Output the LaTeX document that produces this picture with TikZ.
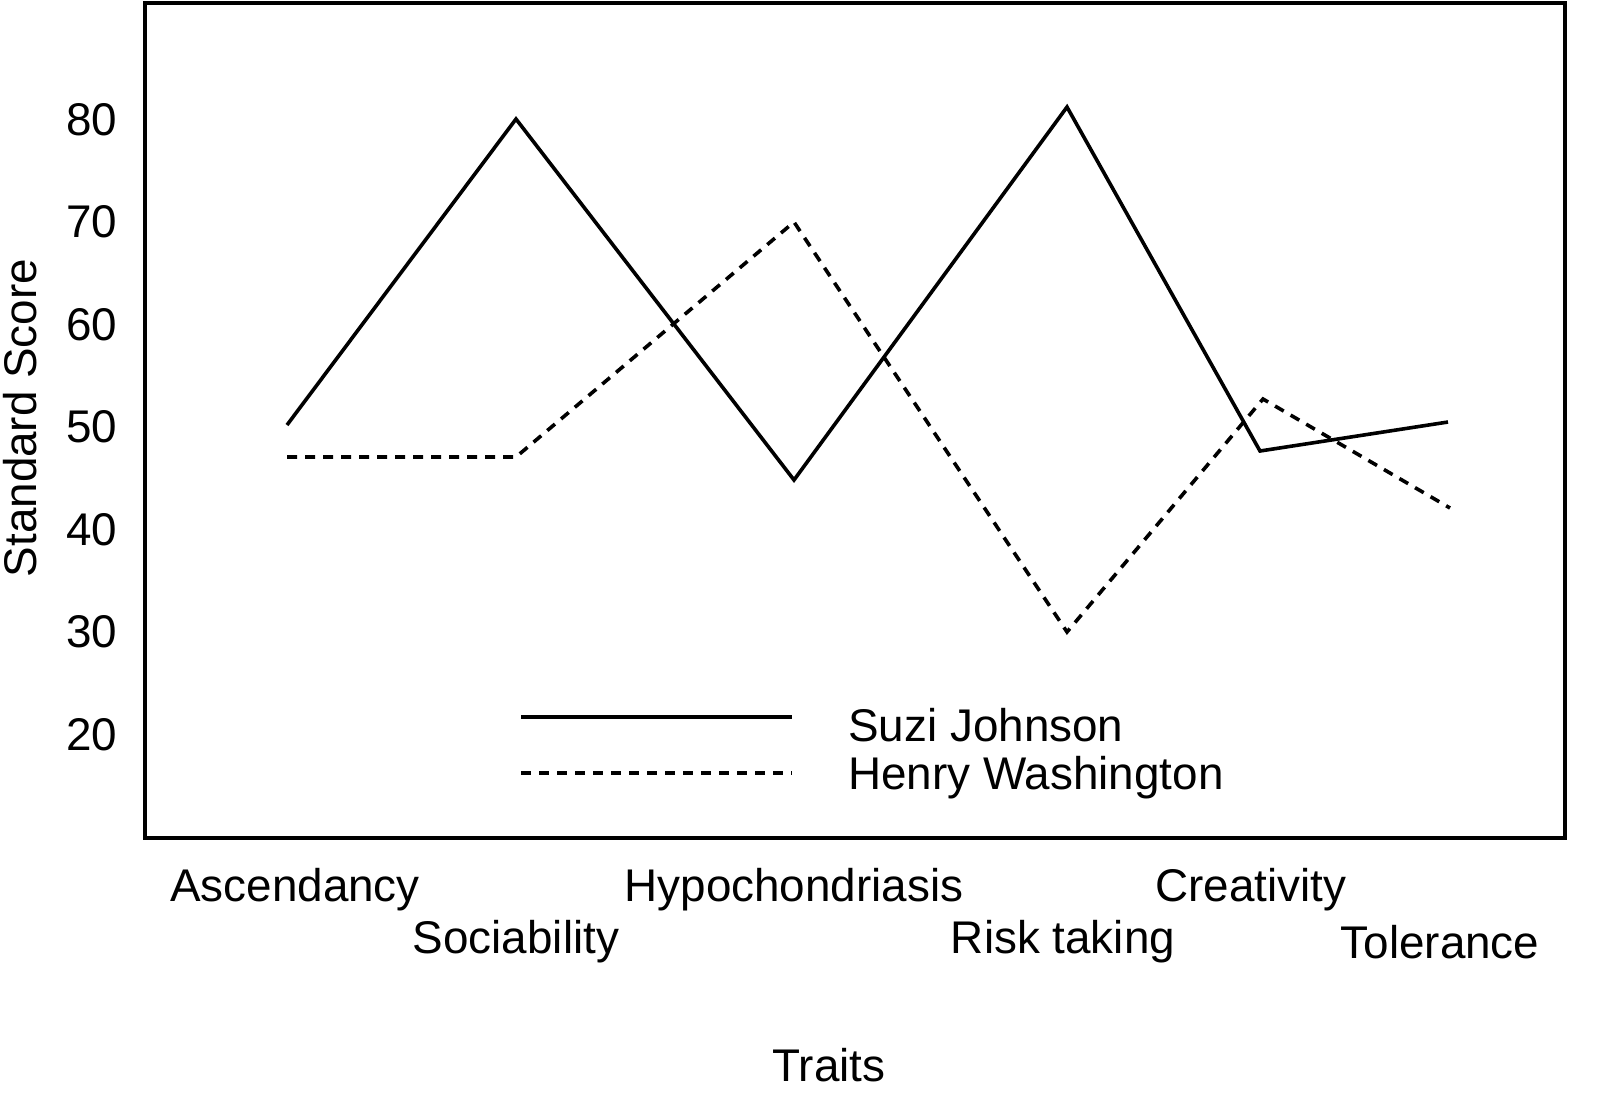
\documentclass[tikz,border=0pt]{standalone}
\usepackage{fontspec}
\setmainfont{Liberation Sans}
\begin{document}
\begin{tikzpicture}[x=0.5bp,y=-0.5bp,
  lbl/.style={font=\fontsize{23}{26}\selectfont,inner sep=0pt},
  suzi/.style={line width=1.8bp},
  henry/.style={line width=1.8bp,dash pattern=on 5bp off 4bp}]
\useasboundingbox (0,0) rectangle (1600,1105);
\draw[line width=1.8bp] (145,3) rectangle (1565,838);
\foreach \v/\y in {80/120,70/222,60/325,50/427,40/530,30/632,20/735}
  \node[lbl] (t\v) at (92,\y) {\v};
\node[lbl,rotate=90] (ylab) at (20,418) {Standard Score};
\node[lbl] (xlab) at (829,1065) {Traits};
\node[lbl] (a) at (295,890) {Ascendancy};
\node[lbl] (s) at (516,942) {Sociability};
\node[lbl] (h) at (794,890) {Hypochondriasis};
\node[lbl] (r) at (1063,942) {Risk taking};
\node[lbl] (c) at (1251,890) {Creativity};
\node[lbl] (to) at (1440,942) {Tolerance};
\coordinate (s1) at (287,425); \coordinate (s2) at (516,119);
\coordinate (s3) at (794,480); \coordinate (s4) at (1067,107);
\coordinate (s5) at (1260,451); \coordinate (s6) at (1448,422);
\draw[suzi,line join=miter] (s1)--(s2)--(s3)--(s4)--(s5)--(s6);
\coordinate (h1) at (287,457); \coordinate (h2) at (516,457);
\coordinate (h3) at (794,222); \coordinate (h4) at (1067,632);
\coordinate (h5) at (1263,399); \coordinate (h6) at (1450,508);
\draw[henry] (h1)--(h2)--(h3)--(h4)--(h5)--(h6);
\coordinate (l1) at (521,717); \coordinate (l2) at (792,717);
\coordinate (l3) at (521,773); \coordinate (l4) at (792,773);
\draw[suzi] (l1)--(l2);
\draw[henry] (l3)--(l4);
\node[lbl,anchor=west] (n1) at (848,725) {Suzi Johnson};
\node[lbl,anchor=west] (n2) at (848,778) {Henry Washington};
\end{tikzpicture}
\end{document}
